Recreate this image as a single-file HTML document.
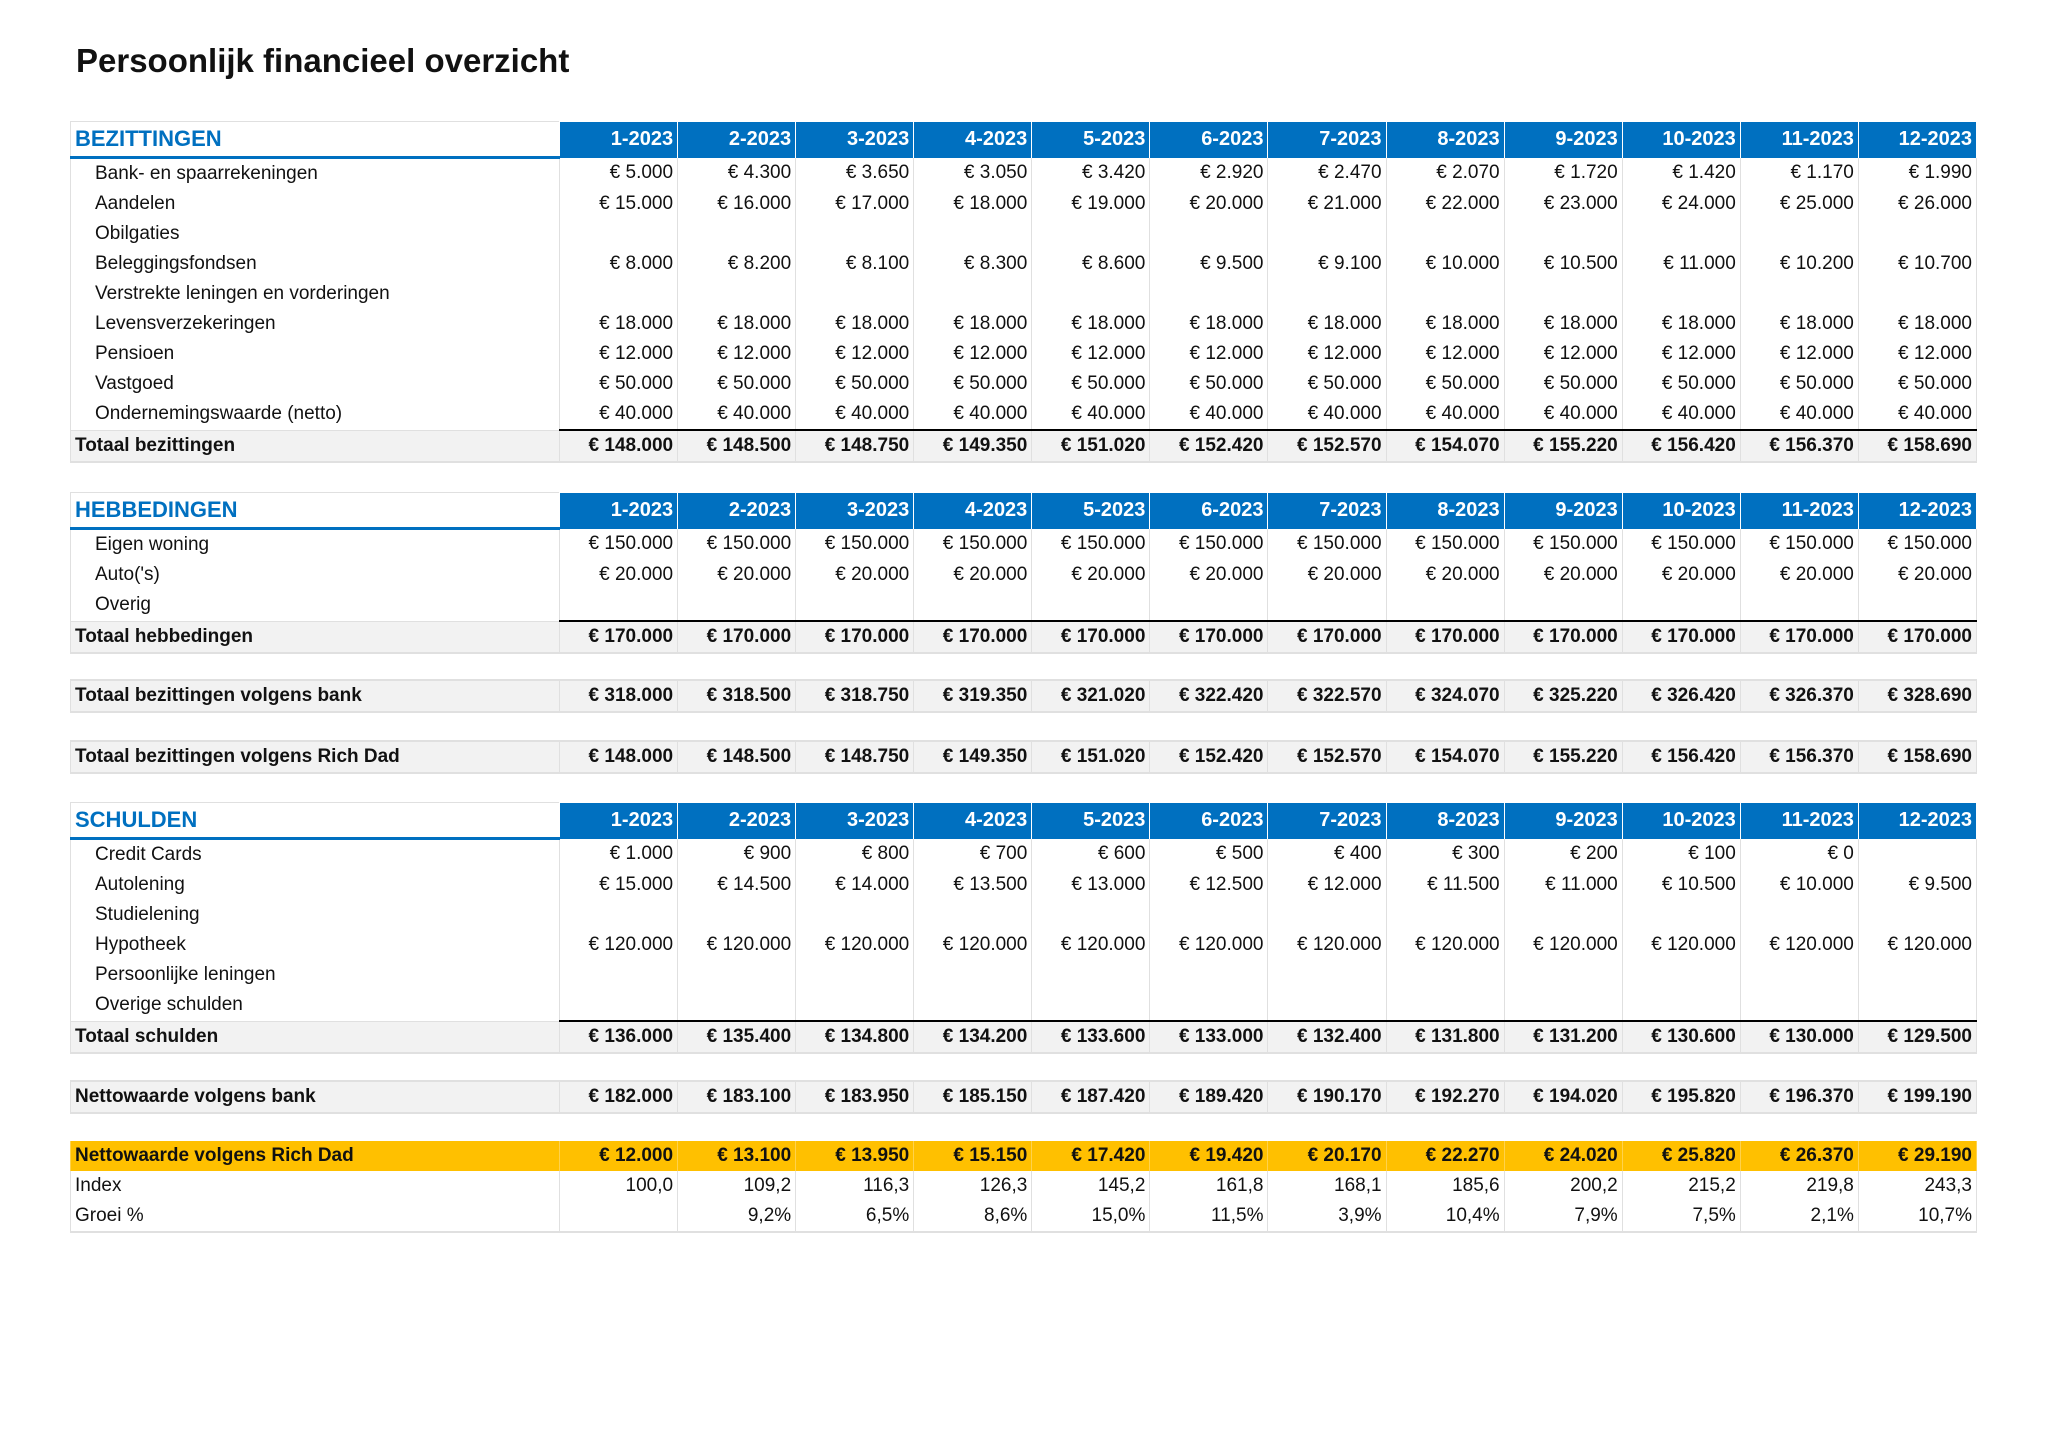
<!DOCTYPE html><html><head><meta charset="utf-8"><style>
body{margin:0;width:2048px;height:1448px;background:#fff;font-family:"Liberation Sans",sans-serif;color:#111;position:relative;overflow:hidden}
h1{position:absolute;left:76px;top:42px;margin:0;font-size:33px;font-weight:bold}
table{position:absolute;left:70px;width:1907px;border-collapse:collapse;table-layout:fixed;font-size:19px}
col.l{width:489px}
td{height:30px;padding:0 4px;text-align:right;white-space:nowrap;border-left:1px solid #e0e0e0;border-right:1px solid #e0e0e0;overflow:hidden}
td:first-child{text-align:left;padding-left:24px}
tr.h td{height:34px;background:#0070c0;color:#fff;font-weight:bold;font-size:20px;border-left:1px solid #fff;border-right:1px solid #fff}
tr.h td:first-child{background:#fff;color:#0070c0;font-size:22px;padding-left:4px;border-bottom:3px solid #0070c0;border-left:1px solid #e0e0e0;border-top:1px solid #e0e0e0}
tr.t td{background:#f2f2f2;font-weight:bold;border-top:2px solid #000;border-bottom:2px solid #e0e0e0}
tr.t td:first-child{padding-left:4px;border-top:1px solid #e0e0e0}
tr.s td{background:#f2f2f2;font-weight:bold;border-top:2px solid #e0e0e0;border-bottom:2px solid #e0e0e0}
tr.s td:first-child{padding-left:4px}
tr.y td{background:#ffc000;font-weight:bold;border-left:1px solid #ffd24d;border-right:1px solid #ffd24d}
tr.y td:first-child{padding-left:4px}
tr.p td:first-child{padding-left:4px}
tr.last td{border-bottom:2px solid #e0e0e0}
</style></head><body>
<h1>Persoonlijk financieel overzicht</h1>

<table style="top:121px"><col class="l"><col span="12">
<tr class="h"><td>BEZITTINGEN</td><td>1-2023</td><td>2-2023</td><td>3-2023</td><td>4-2023</td><td>5-2023</td><td>6-2023</td><td>7-2023</td><td>8-2023</td><td>9-2023</td><td>10-2023</td><td>11-2023</td><td>12-2023</td></tr>
<tr><td>Bank- en spaarrekeningen</td><td>€ 5.000</td><td>€ 4.300</td><td>€ 3.650</td><td>€ 3.050</td><td>€ 3.420</td><td>€ 2.920</td><td>€ 2.470</td><td>€ 2.070</td><td>€ 1.720</td><td>€ 1.420</td><td>€ 1.170</td><td>€ 1.990</td></tr>
<tr><td>Aandelen</td><td>€ 15.000</td><td>€ 16.000</td><td>€ 17.000</td><td>€ 18.000</td><td>€ 19.000</td><td>€ 20.000</td><td>€ 21.000</td><td>€ 22.000</td><td>€ 23.000</td><td>€ 24.000</td><td>€ 25.000</td><td>€ 26.000</td></tr>
<tr><td>Obilgaties</td><td></td><td></td><td></td><td></td><td></td><td></td><td></td><td></td><td></td><td></td><td></td><td></td></tr>
<tr><td>Beleggingsfondsen</td><td>€ 8.000</td><td>€ 8.200</td><td>€ 8.100</td><td>€ 8.300</td><td>€ 8.600</td><td>€ 9.500</td><td>€ 9.100</td><td>€ 10.000</td><td>€ 10.500</td><td>€ 11.000</td><td>€ 10.200</td><td>€ 10.700</td></tr>
<tr><td>Verstrekte leningen en vorderingen</td><td></td><td></td><td></td><td></td><td></td><td></td><td></td><td></td><td></td><td></td><td></td><td></td></tr>
<tr><td>Levensverzekeringen</td><td>€ 18.000</td><td>€ 18.000</td><td>€ 18.000</td><td>€ 18.000</td><td>€ 18.000</td><td>€ 18.000</td><td>€ 18.000</td><td>€ 18.000</td><td>€ 18.000</td><td>€ 18.000</td><td>€ 18.000</td><td>€ 18.000</td></tr>
<tr><td>Pensioen</td><td>€ 12.000</td><td>€ 12.000</td><td>€ 12.000</td><td>€ 12.000</td><td>€ 12.000</td><td>€ 12.000</td><td>€ 12.000</td><td>€ 12.000</td><td>€ 12.000</td><td>€ 12.000</td><td>€ 12.000</td><td>€ 12.000</td></tr>
<tr><td>Vastgoed</td><td>€ 50.000</td><td>€ 50.000</td><td>€ 50.000</td><td>€ 50.000</td><td>€ 50.000</td><td>€ 50.000</td><td>€ 50.000</td><td>€ 50.000</td><td>€ 50.000</td><td>€ 50.000</td><td>€ 50.000</td><td>€ 50.000</td></tr>
<tr><td>Ondernemingswaarde (netto)</td><td>€ 40.000</td><td>€ 40.000</td><td>€ 40.000</td><td>€ 40.000</td><td>€ 40.000</td><td>€ 40.000</td><td>€ 40.000</td><td>€ 40.000</td><td>€ 40.000</td><td>€ 40.000</td><td>€ 40.000</td><td>€ 40.000</td></tr>
<tr class="t"><td>Totaal bezittingen</td><td>€ 148.000</td><td>€ 148.500</td><td>€ 148.750</td><td>€ 149.350</td><td>€ 151.020</td><td>€ 152.420</td><td>€ 152.570</td><td>€ 154.070</td><td>€ 155.220</td><td>€ 156.420</td><td>€ 156.370</td><td>€ 158.690</td></tr>
</table>

<table style="top:492px"><col class="l"><col span="12">
<tr class="h"><td>HEBBEDINGEN</td><td>1-2023</td><td>2-2023</td><td>3-2023</td><td>4-2023</td><td>5-2023</td><td>6-2023</td><td>7-2023</td><td>8-2023</td><td>9-2023</td><td>10-2023</td><td>11-2023</td><td>12-2023</td></tr>
<tr><td>Eigen woning</td><td>€ 150.000</td><td>€ 150.000</td><td>€ 150.000</td><td>€ 150.000</td><td>€ 150.000</td><td>€ 150.000</td><td>€ 150.000</td><td>€ 150.000</td><td>€ 150.000</td><td>€ 150.000</td><td>€ 150.000</td><td>€ 150.000</td></tr>
<tr><td>Auto('s)</td><td>€ 20.000</td><td>€ 20.000</td><td>€ 20.000</td><td>€ 20.000</td><td>€ 20.000</td><td>€ 20.000</td><td>€ 20.000</td><td>€ 20.000</td><td>€ 20.000</td><td>€ 20.000</td><td>€ 20.000</td><td>€ 20.000</td></tr>
<tr><td>Overig</td><td></td><td></td><td></td><td></td><td></td><td></td><td></td><td></td><td></td><td></td><td></td><td></td></tr>
<tr class="t"><td>Totaal hebbedingen</td><td>€ 170.000</td><td>€ 170.000</td><td>€ 170.000</td><td>€ 170.000</td><td>€ 170.000</td><td>€ 170.000</td><td>€ 170.000</td><td>€ 170.000</td><td>€ 170.000</td><td>€ 170.000</td><td>€ 170.000</td><td>€ 170.000</td></tr>
</table>

<table style="top:679px"><col class="l"><col span="12">
<tr class="s"><td>Totaal bezittingen volgens bank</td><td>€ 318.000</td><td>€ 318.500</td><td>€ 318.750</td><td>€ 319.350</td><td>€ 321.020</td><td>€ 322.420</td><td>€ 322.570</td><td>€ 324.070</td><td>€ 325.220</td><td>€ 326.420</td><td>€ 326.370</td><td>€ 328.690</td></tr>
</table>

<table style="top:740px"><col class="l"><col span="12">
<tr class="s"><td>Totaal bezittingen volgens Rich Dad</td><td>€ 148.000</td><td>€ 148.500</td><td>€ 148.750</td><td>€ 149.350</td><td>€ 151.020</td><td>€ 152.420</td><td>€ 152.570</td><td>€ 154.070</td><td>€ 155.220</td><td>€ 156.420</td><td>€ 156.370</td><td>€ 158.690</td></tr>
</table>

<table style="top:802px"><col class="l"><col span="12">
<tr class="h"><td>SCHULDEN</td><td>1-2023</td><td>2-2023</td><td>3-2023</td><td>4-2023</td><td>5-2023</td><td>6-2023</td><td>7-2023</td><td>8-2023</td><td>9-2023</td><td>10-2023</td><td>11-2023</td><td>12-2023</td></tr>
<tr><td>Credit Cards</td><td>€ 1.000</td><td>€ 900</td><td>€ 800</td><td>€ 700</td><td>€ 600</td><td>€ 500</td><td>€ 400</td><td>€ 300</td><td>€ 200</td><td>€ 100</td><td>€ 0</td><td></td></tr>
<tr><td>Autolening</td><td>€ 15.000</td><td>€ 14.500</td><td>€ 14.000</td><td>€ 13.500</td><td>€ 13.000</td><td>€ 12.500</td><td>€ 12.000</td><td>€ 11.500</td><td>€ 11.000</td><td>€ 10.500</td><td>€ 10.000</td><td>€ 9.500</td></tr>
<tr><td>Studielening</td><td></td><td></td><td></td><td></td><td></td><td></td><td></td><td></td><td></td><td></td><td></td><td></td></tr>
<tr><td>Hypotheek</td><td>€ 120.000</td><td>€ 120.000</td><td>€ 120.000</td><td>€ 120.000</td><td>€ 120.000</td><td>€ 120.000</td><td>€ 120.000</td><td>€ 120.000</td><td>€ 120.000</td><td>€ 120.000</td><td>€ 120.000</td><td>€ 120.000</td></tr>
<tr><td>Persoonlijke leningen</td><td></td><td></td><td></td><td></td><td></td><td></td><td></td><td></td><td></td><td></td><td></td><td></td></tr>
<tr><td>Overige schulden</td><td></td><td></td><td></td><td></td><td></td><td></td><td></td><td></td><td></td><td></td><td></td><td></td></tr>
<tr class="t"><td>Totaal schulden</td><td>€ 136.000</td><td>€ 135.400</td><td>€ 134.800</td><td>€ 134.200</td><td>€ 133.600</td><td>€ 133.000</td><td>€ 132.400</td><td>€ 131.800</td><td>€ 131.200</td><td>€ 130.600</td><td>€ 130.000</td><td>€ 129.500</td></tr>
</table>

<table style="top:1080px"><col class="l"><col span="12">
<tr class="s"><td>Nettowaarde volgens bank</td><td>€ 182.000</td><td>€ 183.100</td><td>€ 183.950</td><td>€ 185.150</td><td>€ 187.420</td><td>€ 189.420</td><td>€ 190.170</td><td>€ 192.270</td><td>€ 194.020</td><td>€ 195.820</td><td>€ 196.370</td><td>€ 199.190</td></tr>
</table>

<table style="top:1141px"><col class="l"><col span="12">
<tr class="y"><td>Nettowaarde volgens Rich Dad</td><td>€ 12.000</td><td>€ 13.100</td><td>€ 13.950</td><td>€ 15.150</td><td>€ 17.420</td><td>€ 19.420</td><td>€ 20.170</td><td>€ 22.270</td><td>€ 24.020</td><td>€ 25.820</td><td>€ 26.370</td><td>€ 29.190</td></tr>
<tr class="p"><td>Index</td><td>100,0</td><td>109,2</td><td>116,3</td><td>126,3</td><td>145,2</td><td>161,8</td><td>168,1</td><td>185,6</td><td>200,2</td><td>215,2</td><td>219,8</td><td>243,3</td></tr>
<tr class="p last"><td>Groei %</td><td></td><td>9,2%</td><td>6,5%</td><td>8,6%</td><td>15,0%</td><td>11,5%</td><td>3,9%</td><td>10,4%</td><td>7,9%</td><td>7,5%</td><td>2,1%</td><td>10,7%</td></tr>
</table>
</body></html>
